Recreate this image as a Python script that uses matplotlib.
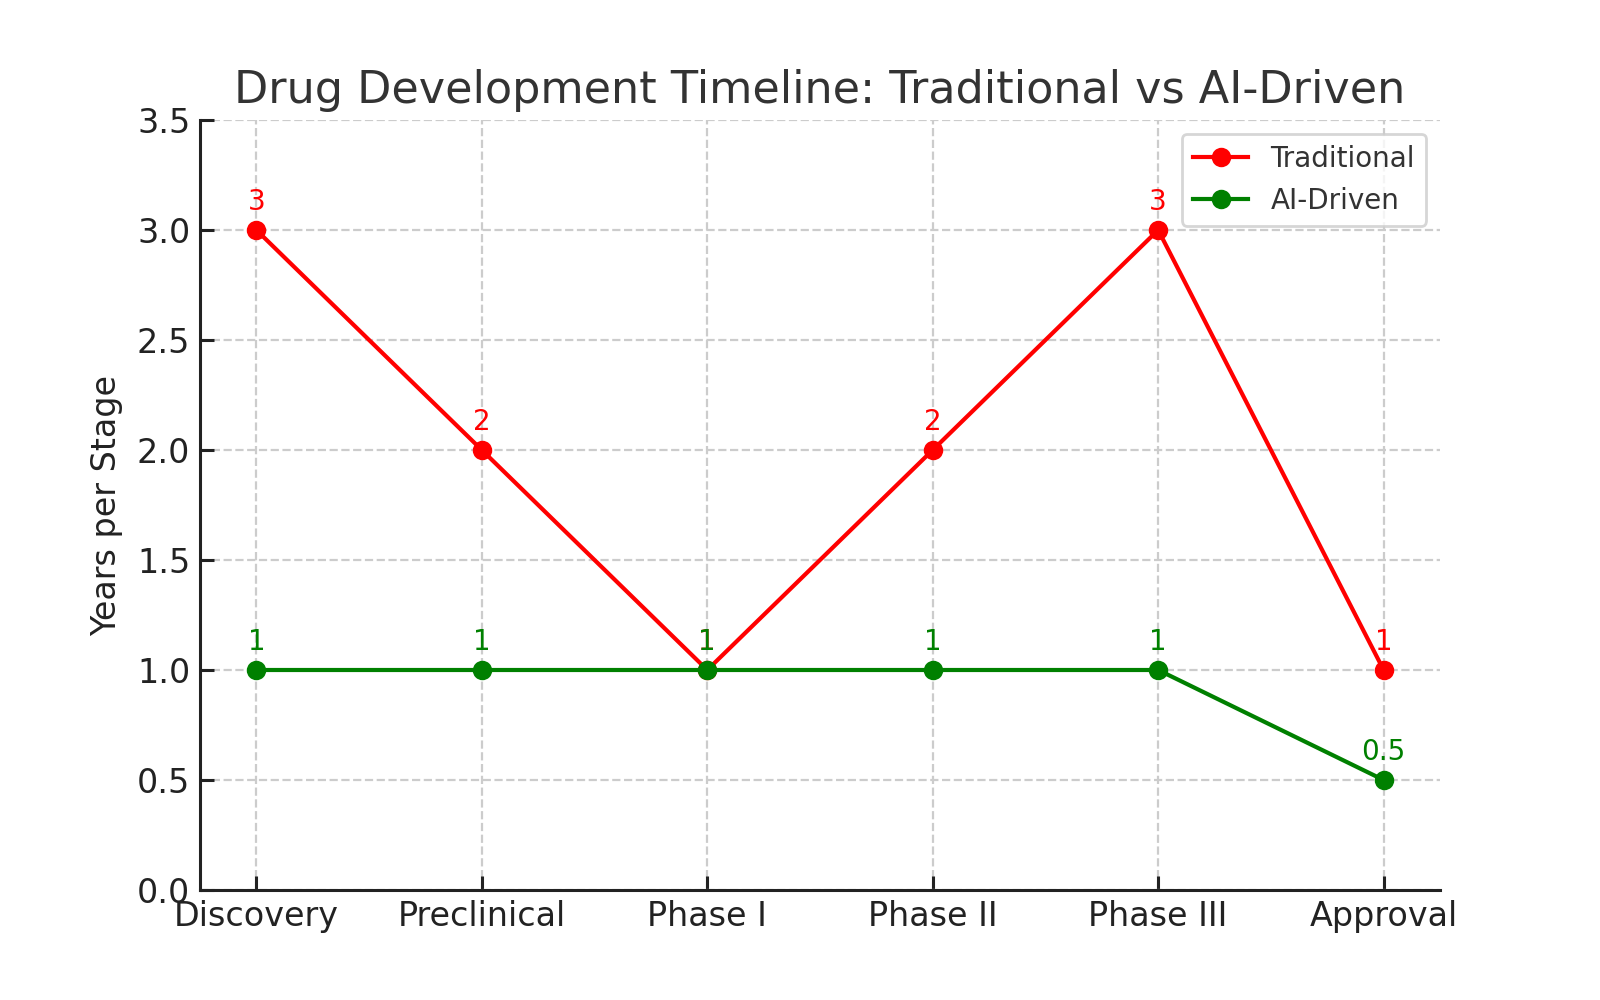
import numpy as np
import matplotlib
matplotlib.use("Agg")
import matplotlib.pyplot as plt

# data
stages = ["Discovery", "Preclinical", "Phase I", "Phase II", "Phase III", "Approval"]
traditional = [3, 2, 1, 2, 3, 1]
ai_driven = [1, 1, 1, 1, 1, 0.5]
yticks = [0.0, 0.5, 1.0, 1.5, 2.0, 2.5, 3.0, 3.5]

fig = plt.figure(figsize=(8, 5), dpi=200)
ax = fig.add_subplot(111)

x = np.arange(len(stages))
ax.plot(x, traditional, "-o", color="red", lw=1.5, ms=6, label="Traditional")
ax.plot(x, ai_driven, "-o", color="green", lw=1.5, ms=6, label="AI-Driven")

# vrednosti nad tockami
for xi, v in zip(x, traditional):
    ax.annotate(f"{v:g}", (xi, v), textcoords="offset points", xytext=(0, 5),
                ha="center", va="bottom", color="red", fontsize=10)
for xi, v in zip(x, ai_driven):
    ax.annotate(f"{v:g}", (xi, v), textcoords="offset points", xytext=(0, 5),
                ha="center", va="bottom", color="green", fontsize=10)

ax.set_xticks(x)
ax.set_xticklabels(stages)
ax.set_yticks(yticks)
ax.set_ylim(0, 3.5)
ax.set_xlim(-0.25, 5.25)

ax.set_title("Drug Development Timeline: Traditional vs AI-Driven", fontsize=16, color="#333333")
ax.set_ylabel("Years per Stage", fontsize=12, color="#222222", labelpad=5)

ax.grid(True, linestyle="--", color="#cccccc", linewidth=0.8)
ax.set_axisbelow(True)
for s in ["top", "right"]:
    ax.spines[s].set_visible(False)
for s in ["left", "bottom"]:
    ax.spines[s].set_linewidth(1.1)
    ax.spines[s].set_color("#222222")
ax.tick_params(direction="in", length=5, width=1.1, labelsize=12, colors="#222222", pad=3.5)

leg = ax.legend(loc="upper right", fontsize=10, frameon=True, fancybox=True)
leg.get_frame().set_edgecolor("#cccccc")
for t in leg.get_texts():
    t.set_color("#333333")

fig.subplots_adjust(left=0.125, right=0.9, bottom=0.11, top=0.88)
fig.savefig("out.png", dpi=200)
